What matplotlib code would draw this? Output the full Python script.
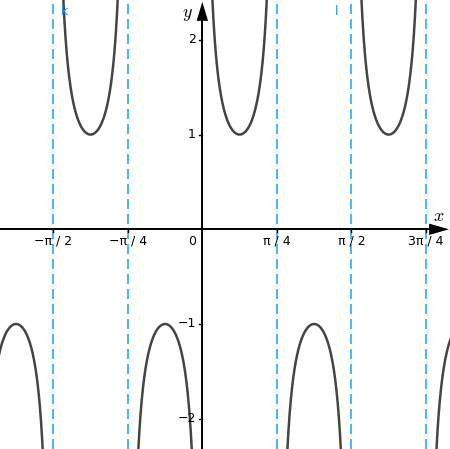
import numpy as np
import matplotlib.pyplot as plt

plt.rcParams['mathtext.fontset'] = 'cm'

X_MIN, X_MAX = -2.132, 2.610
Y_MIN, Y_MAX = -2.320, 2.421

# vertical asymptotes of y = csc(4x)
asymptotes = [-np.pi / 2, -np.pi / 4, np.pi / 4, np.pi / 2, 3 * np.pi / 4]
x_ticks = [-np.pi / 2, -np.pi / 4, np.pi / 4, np.pi / 2, 3 * np.pi / 4]
x_tick_labels = ['−π / 2', '−π / 4', 'π / 4', 'π / 2', '3π / 4']
y_ticks = [-2, -1, 1, 2]
y_tick_labels = ['−2', '−1', '1', '2']
line_names = [('k', -1.49), ('l', 1.40)]

CURVE = '#454545'
DASH = '#4db8ff'

fig = plt.figure(figsize=(4.5, 4.49), dpi=100)
ax = fig.add_axes([0, 0, 1, 1])
ax.set_xlim(X_MIN, X_MAX)
ax.set_ylim(Y_MIN, Y_MAX)
ax.axis('off')

# curve, piecewise between asymptotes
for n in range(-4, 5):
    a = n * np.pi / 4 + 1e-4
    b = (n + 1) * np.pi / 4 - 1e-4
    xs = np.linspace(a, b, 600)
    ys = 1 / np.sin(4 * xs)
    ys[np.abs(ys) > 4] = np.nan
    ax.plot(xs, ys, color=CURVE, lw=1.8, zorder=3, solid_capstyle='round')

for xa in asymptotes:
    ax.axvline(xa, color=DASH, lw=1.5, dashes=(4.8, 2.4), zorder=2)

# axes with arrows
ax.plot([X_MIN, X_MAX - 0.2], [0, 0], color='black', lw=1.4, zorder=4)
ax.plot([0, 0], [Y_MIN, Y_MAX - 0.2], color='black', lw=1.4, zorder=4)
ax.fill([X_MAX - 0.22, X_MAX - 0.01, X_MAX - 0.22], [0.06, 0, -0.06],
        color='black', zorder=5, lw=0)
ax.fill([-0.06, 0, 0.06], [Y_MAX - 0.22, Y_MAX - 0.02, Y_MAX - 0.22],
        color='black', zorder=5, lw=0)
ax.text(X_MAX - 0.12, 0.05, '$x$', fontsize=13, ha='center', va='bottom')
ax.text(-0.1, Y_MAX - 0.15, '$y$', fontsize=13, ha='right', va='center')

for xt, lab in zip(x_ticks, x_tick_labels):
    ax.plot([xt, xt], [0, -0.03], color='black', lw=1, zorder=4)
    ax.text(xt, -0.06, lab, fontsize=9, ha='center', va='top', zorder=6)
for yt, lab in zip(y_ticks, y_tick_labels):
    ax.plot([-0.03, 0], [yt, yt], color='black', lw=1, zorder=4)
    ax.text(-0.07, yt, lab, fontsize=9, ha='right', va='center', zorder=6)
ax.text(-0.07, -0.06, '0', fontsize=9, ha='right', va='top')

for name, xl in line_names:
    ax.text(xl, Y_MAX - 0.12, name, fontsize=9, color='#2196f3',
            ha='left', va='center')

fig.savefig('out.png', dpi=100)
